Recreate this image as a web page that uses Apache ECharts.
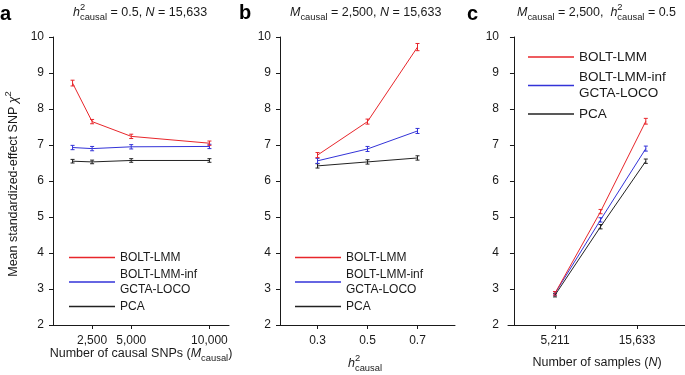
<!DOCTYPE html>
<html>
<head>
<meta charset="utf-8">
<script src="https://cdn.jsdelivr.net/npm/echarts@6/dist/echarts.min.js"></script>
<style>
html, body { margin: 0; padding: 0; background: #fff; }
#chart { width: 685px; height: 375px; }
</style>
</head>
<body>
<div id="chart"></div>
<script>
var seriesNames = ['BOLT-LMM', 'BOLT-LMM-inf', 'PCA'];
var lineColors = ['#e8262b', '#3333d8', '#222222'];
var yTicks = [2, 10, 1]; // min, max, step

// a: number of causal SNPs
var aX = [1250, 2500, 5000, 10000];
var aTicks = [2500, 5000, 10000];
var aBolt = [8.72, 7.65, 7.24, 7.05];
var aBoltErr = [0.08, 0.06, 0.06, 0.06];
var aInf = [6.93, 6.90, 6.95, 6.96];
var aInfErr = [0.06, 0.06, 0.06, 0.06];
var aPca = [6.55, 6.53, 6.57, 6.57];
var aPcaErr = [0.05, 0.05, 0.05, 0.05];

// b: heritability
var bX = [0.3, 0.5, 0.7];
var bTicks = [0.3, 0.5, 0.7];
var bBolt = [6.72, 7.65, 9.72];
var bBoltErr = [0.07, 0.07, 0.10];
var bInf = [6.56, 6.89, 7.39];
var bInfErr = [0.07, 0.07, 0.07];
var bPca = [6.42, 6.53, 6.64];
var bPcaErr = [0.06, 0.06, 0.06];

// c: number of samples
var cX = [5211, 11000, 16750];
var cTicks = [5211, 15633];
var cBolt = [2.88, 5.15, 7.66];
var cBoltErr = [0.05, 0.06, 0.08];
var cInf = [2.88, 4.92, 6.90];
var cInfErr = [0.05, 0.06, 0.07];
var cPca = [2.83, 4.73, 6.55];
var cPcaErr = [0.05, 0.06, 0.06];

var FONT = '"Liberation Sans", Arial, sans-serif';
var TXT = '#1a1a1a';

var panels = [
	{ x: aX, ticks: aTicks, vals: [aBolt, aInf, aPca], errs: [aBoltErr, aInfErr, aPcaErr],
	  grid: { left: 53, top: 37, width: 176, height: 288 }, min: 0, max: 11250,
	  fmt: function (v) { return v.toLocaleString('en-US'); } },
	{ x: bX, ticks: bTicks, vals: [bBolt, bInf, bPca], errs: [bBoltErr, bInfErr, bPcaErr],
	  grid: { left: 280, top: 37, width: 175, height: 288 }, min: 0.15, max: 0.85,
	  fmt: function (v) { return v.toFixed(1); } },
	{ x: cX, ticks: cTicks, vals: [cBolt, cInf, cPca], errs: [cBoltErr, cInfErr, cPcaErr],
	  grid: { left: 508, top: 37, width: 177, height: 288 }, min: -760, max: 21730,
	  fmt: function (v) { return v.toLocaleString('en-US'); } }
];

// text width helper for the super/subscript labels
var measureCtx = document.createElement('canvas').getContext('2d');
function textWidth(str, size, italic) {
	measureCtx.font = (italic ? 'italic ' : '') + size + 'px ' + FONT;
	return measureCtx.measureText(str).width;
}

// parts: [kind, text], kind in n / i / sup / sub ; sup followed by sub are stacked
function mathText(parts, size) {
	var x = 0, kids = [], stackW = 0;
	parts.forEach(function (p, k) {
		var kind = p[0], str = p[1];
		var small = kind === 'sup' || kind === 'sub';
		var fs = small ? size * 0.75 : size;
		var italic = kind === 'i';
		var w = textWidth(str, fs, italic);
		var dy = kind === 'sup' ? -size * 0.42 : (kind === 'sub' ? size * 0.38 : 0);
		kids.push({
			type: 'text', x: x, y: dy,
			style: { text: str, fontSize: fs, fontFamily: FONT, fontStyle: italic ? 'italic' : 'normal',
				fill: TXT, verticalAlign: 'middle', align: 'left' }
		});
		if (kind === 'sup' && parts[k + 1] && parts[k + 1][0] === 'sub') {
			stackW = w;
		} else if (kind === 'sub' && stackW) {
			x += Math.max(w, stackW);
			stackW = 0;
		} else {
			x += w;
		}
	});
	return { kids: kids, width: x };
}

function placeText(parts, size, x, y, anchor, rotate) {
	var m = mathText(parts, size);
	var gx = x, gy = y;
	if (rotate) {
		gy = y + m.width / 2;
	} else if (anchor === 'center') {
		gx = x - m.width / 2;
	}
	return { type: 'group', x: gx, y: gy, rotation: rotate ? Math.PI / 2 : 0, children: m.kids };
}

function errorBar(color) {
	return function (params, api) {
		var x = api.value(0);
		var lo = api.coord([x, api.value(1)]);
		var hi = api.coord([x, api.value(2)]);
		var cap = 2;
		var st = { stroke: color, lineWidth: 1 };
		return {
			type: 'group',
			children: [
				{ type: 'line', shape: { x1: lo[0], y1: lo[1], x2: hi[0], y2: hi[1] }, style: st },
				{ type: 'line', shape: { x1: lo[0] - cap, y1: lo[1], x2: lo[0] + cap, y2: lo[1] }, style: st },
				{ type: 'line', shape: { x1: hi[0] - cap, y1: hi[1], x2: hi[0] + cap, y2: hi[1] }, style: st }
			]
		};
	};
}

var grids = [], xAxes = [], yAxes = [], series = [];
panels.forEach(function (p, gi) {
	grids.push(p.grid);
	xAxes.push({
		type: 'value', gridIndex: gi, min: p.min, max: p.max,
		splitLine: { show: false },
		axisLine: { lineStyle: { color: TXT, width: 1 } },
		axisTick: { customValues: p.ticks, length: 4, lineStyle: { color: TXT } },
		axisLabel: { customValues: p.ticks, formatter: p.fmt, margin: 10, fontSize: 12, color: TXT, fontFamily: FONT }
	});
	yAxes.push({
		type: 'value', gridIndex: gi, min: yTicks[0], max: yTicks[1], interval: yTicks[2],
		splitLine: { show: false },
		axisLine: { show: true, lineStyle: { color: TXT, width: 1 } },
		axisTick: { show: true, length: 4, lineStyle: { color: TXT } },
		axisLabel: { margin: 9, fontSize: 12, color: TXT, fontFamily: FONT }
	});
	// draw PCA first so red ends up on top
	for (var s = 2; s >= 0; s--) {
		var pts = [], bars = [];
		for (var i = 0; i < p.x.length; i++) {
			pts.push([p.x[i], p.vals[s][i]]);
			bars.push([p.x[i], p.vals[s][i] - p.errs[s][i], p.vals[s][i] + p.errs[s][i]]);
		}
		series.push({
			name: seriesNames[s], type: 'line', xAxisIndex: gi, yAxisIndex: gi,
			data: pts, symbol: 'none', color: lineColors[s],
			lineStyle: { width: 1, color: lineColors[s] }, silent: true, animation: false
		});
		series.push({
			type: 'custom', xAxisIndex: gi, yAxisIndex: gi, data: bars,
			encode: { x: 0, y: [1, 2] }, renderItem: errorBar(lineColors[s]),
			silent: true, animation: false
		});
	}
});

function legendAt(left, top, size, lh, gap) {
	return {
		data: seriesNames, left: left, top: top, orient: 'vertical', padding: 0,
		icon: 'rect', itemWidth: 46, itemHeight: 1.5, itemGap: gap, selectedMode: false,
		formatter: function (n) { return n === 'BOLT-LMM-inf' ? 'BOLT-LMM-inf\nGCTA-LOCO' : n; },
		textStyle: { fontSize: size, lineHeight: lh, color: TXT, fontFamily: FONT }
	};
}

var graphics = [
	{ type: 'text', left: 0, top: 4, style: { text: 'a', fontSize: 20, fontWeight: 'bold', fontFamily: FONT, fill: '#000' } },
	{ type: 'text', left: 239, top: 3, style: { text: 'b', fontSize: 20, fontWeight: 'bold', fontFamily: FONT, fill: '#000' } },
	{ type: 'text', left: 467, top: 4, style: { text: 'c', fontSize: 20, fontWeight: 'bold', fontFamily: FONT, fill: '#000' } },
	placeText([['i', 'h'], ['sup', '2'], ['sub', 'causal'], ['n', ' = 0.5, '], ['i', 'N'], ['n', ' = 15,633']], 12.5, 73, 13),
	placeText([['i', 'M'], ['sub', 'causal'], ['n', ' = 2,500, '], ['i', 'N'], ['n', ' = 15,633']], 12.5, 290, 13),
	placeText([['i', 'M'], ['sub', 'causal'], ['n', ' = 2,500,  '], ['i', 'h'], ['sup', '2'], ['sub', 'causal'], ['n', ' = 0.5']], 12.5, 517, 13),
	placeText([['n', 'Mean standardized-effect SNP '], ['i', 'χ'], ['sup', '2']], 12.5, 14, 184, 'center', true),
	placeText([['n', 'Number of causal SNPs ('], ['i', 'M'], ['sub', 'causal'], ['n', ')']], 12.5, 141, 354, 'center'),
	placeText([['i', 'h'], ['sup', '2'], ['sub', 'causal']], 12.5, 348, 364),
	placeText([['n', 'Number of samples ('], ['i', 'N'], ['n', ')']], 12.5, 597, 363, 'center')
];

var chart = echarts.init(document.getElementById('chart'), null, { renderer: 'canvas' });
chart.setOption({
	animation: false,
	backgroundColor: '#fff',
	grid: grids,
	xAxis: xAxes,
	yAxis: yAxes,
	legend: [
		legendAt(69, 250, 12, 15, 2),
		legendAt(295, 250, 12, 15, 2),
		legendAt(528, 49, 13.5, 16, 4.5)
	],
	graphic: graphics,
	series: series
});
</script>
</body>
</html>
